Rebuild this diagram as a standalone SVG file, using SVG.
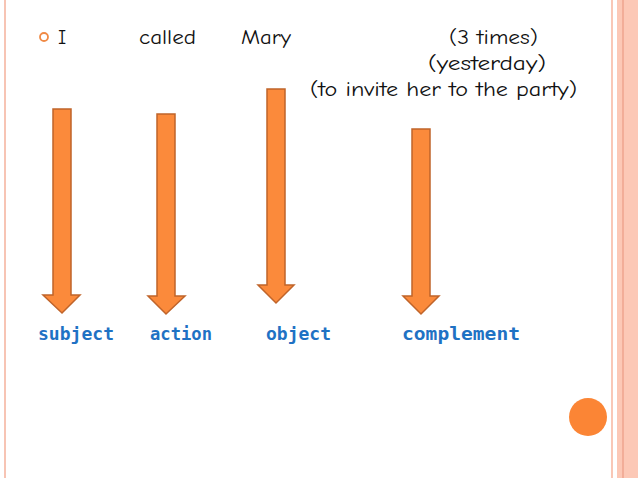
<svg xmlns="http://www.w3.org/2000/svg" width="638" height="478" viewBox="0 0 638 478">
<style>
.t{font-family:"Comic Neue","DejaVu Sans",sans-serif;font-size:21px;fill:#111}
.l{font-family:"DejaVu Sans Mono","Liberation Mono",monospace;font-size:18px;font-weight:bold;fill:#1f72c4}
.a{fill:#fb8a3b;stroke:#c0642a;stroke-width:1.5}
</style>
<rect width="638" height="478" fill="#fff"/>
<rect x="4" y="0" width="2" height="478" fill="#f7c4b4"/>
<rect x="611" y="0" width="2" height="478" fill="#f9c7b6"/>
<rect x="617" y="0" width="21" height="478" fill="#fcc8b6"/>
<rect x="622" y="0" width="2" height="478" fill="#f2ad98"/>
<circle cx="588" cy="417" r="19" fill="#fb8535"/>
<g id="bullet"><circle cx="44" cy="37" r="4" fill="none" stroke="#f08a45" stroke-width="1.8"/></g>
<g id="sentence">
<text class="t" x="58" y="44">I</text>
<text class="t" x="139" y="44" textLength="57" lengthAdjust="spacingAndGlyphs">called</text>
<text class="t" x="241" y="44" textLength="50" lengthAdjust="spacingAndGlyphs">Mary</text>
<text class="t" x="449" y="44" textLength="89" lengthAdjust="spacingAndGlyphs">(3 times)</text>
<text class="t" x="428" y="70" textLength="118" lengthAdjust="spacingAndGlyphs">(yesterday)</text>
<text class="t" x="310" y="96" textLength="267" lengthAdjust="spacingAndGlyphs">(to invite her to the party)</text>
</g>
<g id="connectors">
<path class="a" d="M53 109H71V295H80L62 313L43 295H53Z"/>
<path class="a" d="M157 114H175V296H185L166 314L148 296H157Z"/>
<path class="a" d="M267 89H285V285H294L276 303L258 285H267Z"/>
<path class="a" d="M412 129H430V296H439L421 314L403 296H412Z"/>
</g>
<g id="labels">
<text class="l" x="38" y="340" textLength="76" lengthAdjust="spacingAndGlyphs">subject</text>
<text class="l" x="150" y="340" textLength="62" lengthAdjust="spacingAndGlyphs">action</text>
<text class="l" x="266" y="340" textLength="65" lengthAdjust="spacingAndGlyphs">object</text>
<text class="l" x="402" y="340" textLength="118" lengthAdjust="spacingAndGlyphs">complement</text>
</g>
</svg>
